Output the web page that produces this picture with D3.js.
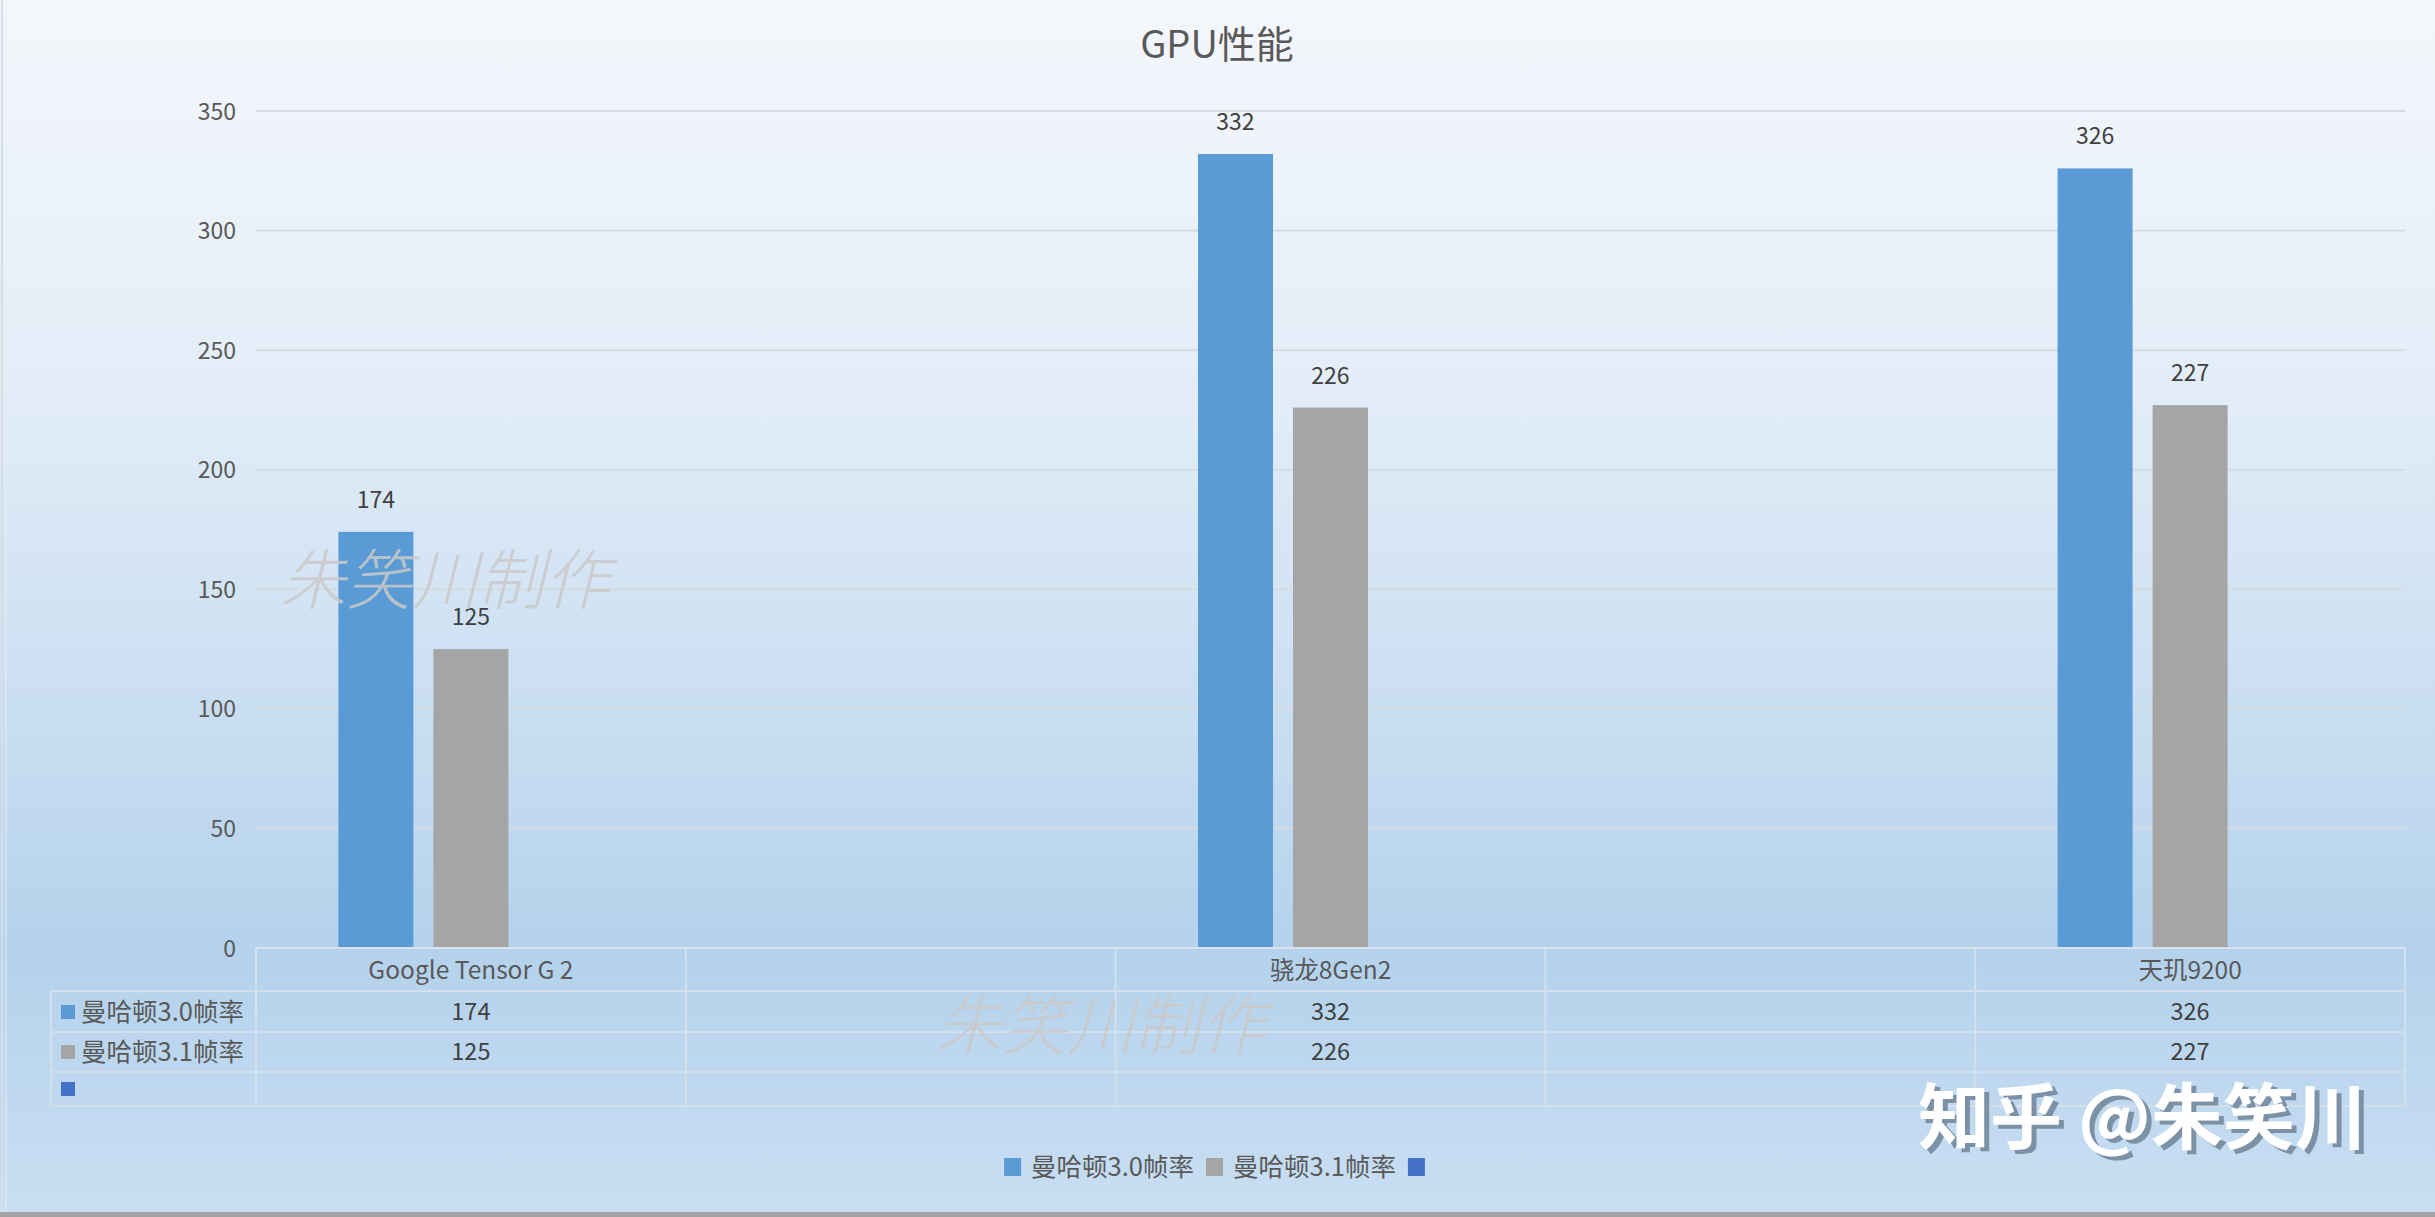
<!DOCTYPE html>
<html>
<head>
<meta charset="utf-8">
<script src="https://cdn.jsdelivr.net/npm/d3@7"></script>
<style>
  html, body { margin: 0; padding: 0; background: #ffffff; }
  svg { display: block; }
  text { font-family: "Noto Sans CJK SC", "Noto Sans", sans-serif; }
</style>
</head>
<body>
<svg id="chart" width="2435" height="1217"></svg>
<script>
// ---------- data ----------
const title = "GPU性能";
const categories = ["Google Tensor G 2", "", "骁龙8Gen2", "", "天玑9200"];
const seriesNames = ["曼哈顿3.0帧率", "曼哈顿3.1帧率", ""];
const series30 = [174, null, 332, null, 326];
const series31 = [125, null, 226, null, 227];
const series3 = [null, null, null, null, null];
const yTicks = [0, 50, 100, 150, 200, 250, 300, 350];
const seriesColors = ["#5B9BD5", "#A5A5A5", "#4472C4"];
const watermark = "朱笑川制作";
const signature = "知乎 @朱笑川";

const allSeries = [series30, series31, series3];

// ---------- layout ----------
const W = 2435, H = 1217;
const plot = { left: 256, right: 2405, top: 111, bottom: 948 };
const tableRows = [948, 991, 1032, 1072, 1106];
const tableLeft = 51;

const svg = d3.select("#chart");
const defs = svg.append("defs");

// background gradient
const bg = defs.append("linearGradient").attr("id", "bg")
  .attr("x1", 0).attr("y1", 0).attr("x2", 0).attr("y2", 1);
[["0%", "#f4f7fc"], ["30%", "#e4eef8"], ["55%", "#cde0f2"], ["78%", "#b4d2ec"], ["100%", "#c9def2"]]
  .forEach(([o, c]) => bg.append("stop").attr("offset", o).attr("stop-color", c));

svg.append("rect").attr("width", W).attr("height", H).attr("fill", "url(#bg)");
svg.append("line").attr("x1", 2).attr("x2", 2).attr("y1", 0).attr("y2", H)
  .attr("stroke", "#d5dde6").attr("stroke-width", 2);
svg.append("line").attr("x1", 6).attr("x2", 6).attr("y1", 0).attr("y2", H)
  .attr("stroke", "#e6ecf2").attr("stroke-width", 1);

// scales
const y = d3.scaleLinear().domain([0, 350]).range([plot.bottom, plot.top]);
const x = d3.scaleBand().domain(d3.range(categories.length)).range([plot.left, plot.right]).padding(0);
const groupFrac = 0.6166;
const inner = d3.scaleBand().domain(d3.range(seriesNames.length))
  .range([x.bandwidth() * (1 - groupFrac) / 2, x.bandwidth() * (1 + groupFrac) / 2])
  .paddingInner(20 / 95).paddingOuter(0);

// gridlines
svg.append("g").selectAll("line").data(yTicks.filter(d => d > 0)).join("line")
  .attr("x1", plot.left).attr("x2", plot.right)
  .attr("y1", d => y(d)).attr("y2", d => y(d))
  .attr("stroke", "#d6dbe1").attr("stroke-width", 2);

// y axis labels
const yAxis = d3.axisLeft(y).tickValues(yTicks).tickSize(0).tickPadding(0);
const gy = svg.append("g").attr("transform", `translate(236,0)`).call(yAxis);
gy.select(".domain").remove();
gy.selectAll("text").attr("font-size", 23).attr("fill", "#595959")
  .attr("font-family", "'Noto Sans CJK SC', sans-serif").attr("dy", "0.35em");

// bars
const barG = svg.append("g");
allSeries.forEach((vals, si) => {
  barG.append("g").selectAll("rect")
    .data(vals.map((v, i) => ({ v, i })).filter(d => d.v != null)).join("rect")
    .attr("x", d => x(d.i) + inner(si))
    .attr("width", inner.bandwidth())
    .attr("y", d => y(d.v))
    .attr("height", d => y(0) - y(d.v))
    .attr("fill", seriesColors[si]);
  barG.append("g").selectAll("text")
    .data(vals.map((v, i) => ({ v, i })).filter(d => d.v != null)).join("text")
    .attr("x", d => x(d.i) + inner(si) + inner.bandwidth() / 2)
    .attr("y", d => y(d.v) - 24)
    .attr("text-anchor", "middle")
    .attr("font-size", 23).attr("fill", "#404040")
    .text(d => d.v);
});

// title
svg.append("text").attr("x", 1217).attr("y", 58).attr("text-anchor", "middle")
  .attr("font-size", 38).attr("fill", "#595959").text(title);

// ---------- data table ----------
const lineColor = "#d3e0ec";
const tg = svg.append("g");
tableRows.forEach((ry, k) => {
  tg.append("line")
    .attr("x1", k === 0 ? plot.left : tableLeft).attr("x2", plot.right)
    .attr("y1", ry).attr("y2", ry)
    .attr("stroke", k === 0 ? "#d9e2eb" : lineColor).attr("stroke-width", 2);
});
const colEdges = d3.range(categories.length + 1).map(i => i < categories.length ? x(i) : x(categories.length - 1) + x.bandwidth());
tg.selectAll("line.v").data(colEdges).join("line").attr("class", "v")
  .attr("x1", d => d).attr("x2", d => d)
  .attr("y1", tableRows[0]).attr("y2", tableRows[4])
  .attr("stroke", lineColor).attr("stroke-width", 2);
tg.append("line").attr("x1", tableLeft).attr("x2", tableLeft)
  .attr("y1", tableRows[1]).attr("y2", tableRows[4])
  .attr("stroke", lineColor).attr("stroke-width", 2);

function tableText(g, tx, ty, str, fill, anchor, size) {
  g.append("text")
    .attr("x", tx).attr("y", ty)
    .attr("text-anchor", anchor || "middle")
    .attr("dy", "0.35em")
    .attr("font-size", size || 23.5).attr("fill", fill).text(str);
}
categories.forEach((c, i) => {
  if (c) tableText(tg, x(i) + x.bandwidth() / 2, 970, c, "#595959", "middle", 24.5);
});
const rowCenters = [1012, 1052, 1089];
allSeries.forEach((vals, si) => {
  tg.append("rect").attr("x", 61).attr("width", 14)
    .attr("y", rowCenters[si] - 7).attr("height", 14)
    .attr("fill", seriesColors[si]);
  if (seriesNames[si]) tableText(tg, 81, rowCenters[si], seriesNames[si], "#595959", "start", 25.5);
  vals.forEach((v, i) => {
    if (v != null) tableText(tg, x(i) + x.bandwidth() / 2, rowCenters[si], v, "#404040", "middle", 23.5);
  });
});

// ---------- watermarks ----------
function wm(tx, ty) {
  svg.append("text").attr("x", tx).attr("y", ty)
    .attr("font-size", 66).attr("font-style", "italic").attr("font-weight", 300)
    .attr("fill", "#c9c9c9").attr("fill-opacity", 0.85)
    .text(watermark);
}
wm(280, 604);
wm(936, 1049);

// ---------- legend ----------
const lg = svg.append("g");
let lx = 0;
seriesNames.forEach((name, si) => {
  const g = lg.append("g").attr("transform", `translate(${lx},0)`);
  g.append("rect").attr("x", 0).attr("y", 1158).attr("width", 17).attr("height", 18)
    .attr("fill", seriesColors[si]);
  let w = 17;
  if (name) {
    const t = g.append("text").attr("x", 27).attr("y", 1167).attr("dy", "0.35em")
      .attr("font-size", 25.5).attr("fill", "#595959").text(name);
    w = 27 + t.node().getComputedTextLength();
  }
  lx += w + 12;
});
const legendW = lx - 12;
lg.attr("transform", `translate(${1214.5 - legendW / 2},0)`);

// ---------- signature ----------
svg.append("text").attr("x", 1923).attr("y", 1147)
  .attr("font-size", 72).attr("font-weight", 700).attr("fill", "#7d91a6")
  .text(signature);
svg.append("text").attr("x", 1918).attr("y", 1143)
  .attr("font-size", 72).attr("font-weight", 700).attr("fill", "#ffffff")
  .text(signature);

// ---------- bottom strip ----------
svg.append("rect").attr("x", 0).attr("y", 1212).attr("width", W).attr("height", 5).attr("fill", "#a2a2a2");
</script>
</body>
</html>
